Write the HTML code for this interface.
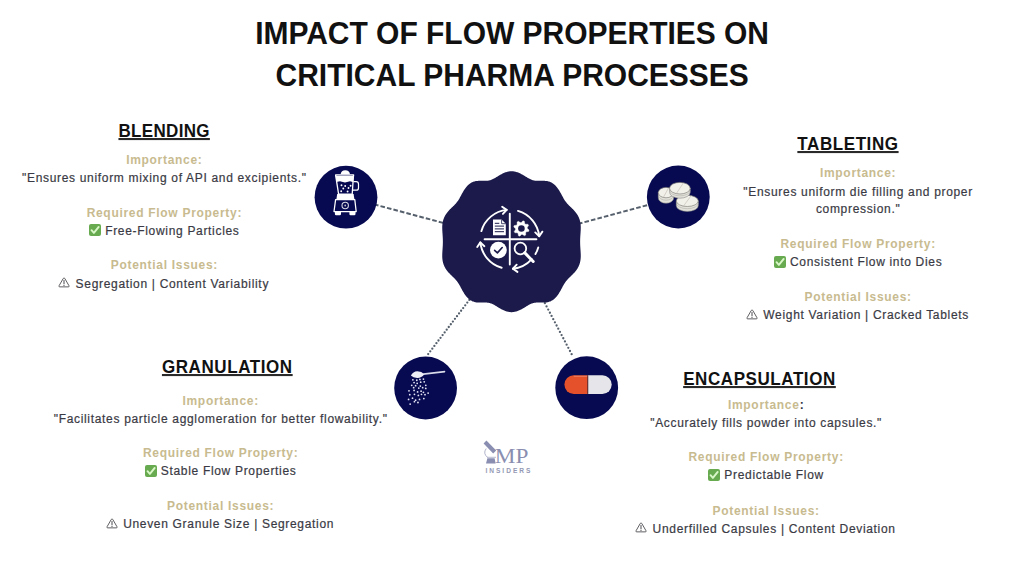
<!DOCTYPE html>
<html><head><meta charset="utf-8"><style>
html,body{margin:0;padding:0;}
body{width:1024px;height:576px;position:relative;overflow:hidden;background:#fff;font-family:"Liberation Sans",sans-serif;}
.t{position:absolute;white-space:nowrap;text-align:center;}
.s{-webkit-text-stroke:0.2px currentColor;}
.ic{vertical-align:-1px;}
svg.bg{position:absolute;left:0;top:0;}
</style></head><body>
<div class="t" style="left:112.09px;top:15.50px;width:800px;font-size:30px;line-height:36px;color:#111;letter-spacing:-0.02px;font-weight:bold;transform:scaleY(1.034);transform-origin:50% 28.40px;">IMPACT OF FLOW PROPERTIES ON</div>
<div class="t" style="left:112.20px;top:57.60px;width:800px;font-size:30px;line-height:36px;color:#111;letter-spacing:0.0px;font-weight:bold;transform:scaleY(1.034);transform-origin:50% 28.40px;">CRITICAL PHARMA PROCESSES</div>
<div class="t" style="left:-85.83px;top:121.81px;width:500px;font-size:17px;line-height:20px;color:#111;letter-spacing:0.33px;font-weight:bold;text-decoration:underline;text-decoration-thickness:2px;text-underline-offset:1.3px;text-decoration-color:#2a2a2a;transform:scaleY(1.04);transform-origin:50% 15.89px;">BLENDING</div>
<div class="t" style="left:-85.65px;top:152.84px;width:500px;font-size:12px;line-height:14px;color:#c8bb8f;letter-spacing:0.7px;font-weight:bold;">Importance:</div>
<div class="t s" style="left:-85.66px;top:170.84px;width:500px;font-size:12px;line-height:14px;color:#3a3a44;letter-spacing:0.68px;">"Ensures uniform mixing of API and excipients."</div>
<div class="t" style="left:-85.65px;top:205.74px;width:500px;font-size:12px;line-height:14px;color:#c8bb8f;letter-spacing:0.7px;font-weight:bold;">Required Flow Property:</div>
<div class="t s" style="left:-85.66px;top:223.54px;width:500px;font-size:12px;line-height:14px;color:#3a3a44;letter-spacing:0.68px;"><svg class="ic" style="vertical-align:-1.8px" width="12" height="12" viewBox="0 0 12 12"><rect x="0" y="0" width="12" height="12" rx="2" fill="#68aa50"/><path d="M2.5 6.2 L4.9 8.9 L9.7 2.9" stroke="#d9f7c8" stroke-width="1.9" fill="none" stroke-linecap="round" stroke-linejoin="round"/></svg> Free-Flowing Particles</div>
<div class="t" style="left:-85.65px;top:258.34px;width:500px;font-size:12px;line-height:14px;color:#c8bb8f;letter-spacing:0.7px;font-weight:bold;">Potential Issues:</div>
<div class="t s" style="left:-85.66px;top:276.64px;width:500px;font-size:12px;line-height:14px;color:#3a3a44;letter-spacing:0.68px;"><svg class="ic" style="vertical-align:-0.6px;position:relative;left:-1.2px" width="12" height="11" viewBox="0 0 12 11"><path d="M5.2 1.2 Q6 0 6.8 1.2 L11.4 9.2 Q12 10.4 10.6 10.4 L1.4 10.4 Q0 10.4 0.6 9.2 Z" stroke="#5a5a5e" stroke-width="1.05" fill="none" stroke-linejoin="round" transform="translate(0.5 0.3) scale(0.92)"/><path d="M6 3.6 L6 6.8" stroke="#5a5a5e" stroke-width="1.1" stroke-linecap="round"/><circle cx="6" cy="8.4" r="0.6" fill="#5a5a5e"/></svg> Segregation | Content Variability</div>
<div class="t" style="left:-22.71px;top:357.51px;width:500px;font-size:17px;line-height:20px;color:#111;letter-spacing:0.58px;font-weight:bold;text-decoration:underline;text-decoration-thickness:2px;text-underline-offset:1.3px;text-decoration-color:#2a2a2a;transform:scaleY(1.04);transform-origin:50% 15.89px;">GRANULATION</div>
<div class="t" style="left:-29.35px;top:393.54px;width:500px;font-size:12px;line-height:14px;color:#c8bb8f;letter-spacing:0.7px;font-weight:bold;">Importance:</div>
<div class="t s" style="left:-29.36px;top:411.94px;width:500px;font-size:12px;line-height:14px;color:#3a3a44;letter-spacing:0.68px;">"Facilitates particle agglomeration for better flowability."</div>
<div class="t" style="left:-29.35px;top:446.44px;width:500px;font-size:12px;line-height:14px;color:#c8bb8f;letter-spacing:0.7px;font-weight:bold;">Required Flow Property:</div>
<div class="t s" style="left:-29.36px;top:464.04px;width:500px;font-size:12px;line-height:14px;color:#3a3a44;letter-spacing:0.68px;"><svg class="ic" style="vertical-align:-1.8px" width="12" height="12" viewBox="0 0 12 12"><rect x="0" y="0" width="12" height="12" rx="2" fill="#68aa50"/><path d="M2.5 6.2 L4.9 8.9 L9.7 2.9" stroke="#d9f7c8" stroke-width="1.9" fill="none" stroke-linecap="round" stroke-linejoin="round"/></svg> Stable Flow Properties</div>
<div class="t" style="left:-29.35px;top:498.84px;width:500px;font-size:12px;line-height:14px;color:#c8bb8f;letter-spacing:0.7px;font-weight:bold;">Potential Issues:</div>
<div class="t s" style="left:-29.36px;top:517.04px;width:500px;font-size:12px;line-height:14px;color:#3a3a44;letter-spacing:0.68px;"><svg class="ic" style="vertical-align:-0.6px;position:relative;left:-1.2px" width="12" height="11" viewBox="0 0 12 11"><path d="M5.2 1.2 Q6 0 6.8 1.2 L11.4 9.2 Q12 10.4 10.6 10.4 L1.4 10.4 Q0 10.4 0.6 9.2 Z" stroke="#5a5a5e" stroke-width="1.05" fill="none" stroke-linejoin="round" transform="translate(0.5 0.3) scale(0.92)"/><path d="M6 3.6 L6 6.8" stroke="#5a5a5e" stroke-width="1.1" stroke-linecap="round"/><circle cx="6" cy="8.4" r="0.6" fill="#5a5a5e"/></svg> Uneven Granule Size | Segregation</div>
<div class="t" style="left:597.99px;top:135.31px;width:500px;font-size:17px;line-height:20px;color:#111;letter-spacing:0.58px;font-weight:bold;text-decoration:underline;text-decoration-thickness:2px;text-underline-offset:1.3px;text-decoration-color:#2a2a2a;transform:scaleY(1.04);transform-origin:50% 15.89px;">TABLETING</div>
<div class="t" style="left:608.15px;top:166.44px;width:500px;font-size:12px;line-height:14px;color:#c8bb8f;letter-spacing:0.7px;font-weight:bold;">Importance:</div>
<div class="t s" style="left:608.14px;top:185.04px;width:500px;font-size:12px;line-height:14px;color:#3a3a44;letter-spacing:0.68px;">"Ensures uniform die filling and proper</div>
<div class="t s" style="left:608.14px;top:202.24px;width:500px;font-size:12px;line-height:14px;color:#3a3a44;letter-spacing:0.68px;">compression."</div>
<div class="t" style="left:608.15px;top:237.14px;width:500px;font-size:12px;line-height:14px;color:#c8bb8f;letter-spacing:0.7px;font-weight:bold;">Required Flow Property:</div>
<div class="t s" style="left:608.14px;top:255.24px;width:500px;font-size:12px;line-height:14px;color:#3a3a44;letter-spacing:0.68px;"><svg class="ic" style="vertical-align:-1.8px" width="12" height="12" viewBox="0 0 12 12"><rect x="0" y="0" width="12" height="12" rx="2" fill="#68aa50"/><path d="M2.5 6.2 L4.9 8.9 L9.7 2.9" stroke="#d9f7c8" stroke-width="1.9" fill="none" stroke-linecap="round" stroke-linejoin="round"/></svg> Consistent Flow into Dies</div>
<div class="t" style="left:608.15px;top:289.64px;width:500px;font-size:12px;line-height:14px;color:#c8bb8f;letter-spacing:0.7px;font-weight:bold;">Potential Issues:</div>
<div class="t s" style="left:608.14px;top:308.24px;width:500px;font-size:12px;line-height:14px;color:#3a3a44;letter-spacing:0.68px;"><svg class="ic" style="vertical-align:-0.6px;position:relative;left:-1.2px" width="12" height="11" viewBox="0 0 12 11"><path d="M5.2 1.2 Q6 0 6.8 1.2 L11.4 9.2 Q12 10.4 10.6 10.4 L1.4 10.4 Q0 10.4 0.6 9.2 Z" stroke="#5a5a5e" stroke-width="1.05" fill="none" stroke-linejoin="round" transform="translate(0.5 0.3) scale(0.92)"/><path d="M6 3.6 L6 6.8" stroke="#5a5a5e" stroke-width="1.1" stroke-linecap="round"/><circle cx="6" cy="8.4" r="0.6" fill="#5a5a5e"/></svg> Weight Variation | Cracked Tablets</div>
<div class="t" style="left:509.49px;top:369.81px;width:500px;font-size:17px;line-height:20px;color:#111;letter-spacing:0.58px;font-weight:bold;text-decoration:underline;text-decoration-thickness:2px;text-underline-offset:1.3px;text-decoration-color:#2a2a2a;transform:scaleY(1.04);transform-origin:50% 15.89px;">ENCAPSULATION</div>
<div class="t" style="left:516.15px;top:397.84px;width:500px;font-size:12px;line-height:14px;color:#c8bb8f;letter-spacing:0.7px;font-weight:bold;">Importance<span style="color:#30313f">:</span></div>
<div class="t s" style="left:516.14px;top:415.64px;width:500px;font-size:12px;line-height:14px;color:#3a3a44;letter-spacing:0.68px;">"Accurately fills powder into capsules."</div>
<div class="t" style="left:516.15px;top:450.24px;width:500px;font-size:12px;line-height:14px;color:#c8bb8f;letter-spacing:0.7px;font-weight:bold;">Required Flow Property:</div>
<div class="t s" style="left:516.14px;top:468.34px;width:500px;font-size:12px;line-height:14px;color:#3a3a44;letter-spacing:0.68px;"><svg class="ic" style="vertical-align:-1.8px" width="12" height="12" viewBox="0 0 12 12"><rect x="0" y="0" width="12" height="12" rx="2" fill="#68aa50"/><path d="M2.5 6.2 L4.9 8.9 L9.7 2.9" stroke="#d9f7c8" stroke-width="1.9" fill="none" stroke-linecap="round" stroke-linejoin="round"/></svg> Predictable Flow</div>
<div class="t" style="left:516.15px;top:503.54px;width:500px;font-size:12px;line-height:14px;color:#c8bb8f;letter-spacing:0.7px;font-weight:bold;">Potential Issues:</div>
<div class="t s" style="left:516.14px;top:521.64px;width:500px;font-size:12px;line-height:14px;color:#3a3a44;letter-spacing:0.68px;"><svg class="ic" style="vertical-align:-0.6px;position:relative;left:-1.2px" width="12" height="11" viewBox="0 0 12 11"><path d="M5.2 1.2 Q6 0 6.8 1.2 L11.4 9.2 Q12 10.4 10.6 10.4 L1.4 10.4 Q0 10.4 0.6 9.2 Z" stroke="#5a5a5e" stroke-width="1.05" fill="none" stroke-linejoin="round" transform="translate(0.5 0.3) scale(0.92)"/><path d="M6 3.6 L6 6.8" stroke="#5a5a5e" stroke-width="1.1" stroke-linecap="round"/><circle cx="6" cy="8.4" r="0.6" fill="#5a5a5e"/></svg> Underfilled Capsules | Content Deviation</div>
<svg class="bg" width="1024" height="576" viewBox="0 0 1024 576">
<g stroke="#56606c" stroke-width="2" fill="none">
<line x1="374" y1="204.4" x2="446" y2="223.6" stroke-dasharray="4.6 2.1"/>
<line x1="578" y1="223.9" x2="650" y2="204.4" stroke-dasharray="4.6 2.1"/>
<line x1="471.4" y1="297.2" x2="427.4" y2="355.1" stroke-dasharray="0 3.4" stroke-linecap="round" stroke-width="2.3"/>
<line x1="543.2" y1="300" x2="572.8" y2="356.4" stroke-dasharray="0 3.6" stroke-linecap="round" stroke-width="2.3"/>
</g>
<path d="M580.13 241.70 L580.13 242.30 L580.14 242.90 L580.15 243.50 L580.17 244.10 L580.19 244.70 L580.21 245.30 L580.24 245.90 L580.27 246.51 L580.31 247.12 L580.35 247.72 L580.39 248.33 L580.43 248.94 L580.47 249.56 L580.52 250.17 L580.56 250.79 L580.60 251.41 L580.64 252.03 L580.68 252.66 L580.71 253.28 L580.73 253.91 L580.75 254.54 L580.76 255.16 L580.77 255.79 L580.76 256.42 L580.74 257.05 L580.71 257.68 L580.67 258.31 L580.61 258.93 L580.54 259.56 L580.46 260.18 L580.36 260.80 L580.24 261.41 L580.11 262.02 L579.96 262.63 L579.79 263.23 L579.61 263.83 L579.41 264.42 L579.19 265.01 L578.95 265.59 L578.70 266.16 L578.43 266.73 L578.15 267.28 L577.85 267.84 L577.53 268.38 L577.20 268.91 L576.85 269.44 L576.50 269.96 L576.12 270.47 L575.74 270.97 L575.34 271.47 L574.93 271.96 L574.52 272.44 L574.09 272.91 L573.66 273.37 L573.22 273.83 L572.77 274.28 L572.33 274.73 L571.88 275.17 L571.43 275.60 L570.97 276.04 L570.52 276.47 L570.08 276.90 L569.64 277.33 L569.20 277.76 L568.77 278.19 L568.35 278.62 L567.93 279.05 L567.53 279.49 L567.14 279.94 L566.75 280.39 L566.38 280.84 L566.01 281.31 L565.66 281.78 L565.32 282.25 L564.98 282.74 L564.66 283.23 L564.34 283.73 L564.03 284.24 L563.73 284.75 L563.43 285.27 L563.13 285.80 L562.84 286.33 L562.55 286.86 L562.26 287.40 L561.97 287.95 L561.68 288.49 L561.39 289.04 L561.09 289.59 L560.79 290.14 L560.48 290.68 L560.17 291.23 L559.86 291.77 L559.53 292.32 L559.20 292.85 L558.86 293.39 L558.52 293.92 L558.16 294.44 L557.79 294.95 L557.42 295.46 L557.03 295.96 L556.64 296.45 L556.23 296.93 L555.81 297.40 L555.37 297.86 L554.93 298.30 L554.47 298.72 L554.00 299.13 L553.51 299.52 L553.01 299.89 L552.49 300.24 L551.95 300.56 L551.41 300.86 L550.84 301.14 L550.27 301.40 L549.68 301.62 L549.07 301.83 L548.45 302.00 L547.82 302.15 L547.18 302.28 L546.54 302.38 L545.88 302.46 L545.22 302.52 L544.55 302.57 L543.88 302.59 L543.20 302.60 L542.53 302.61 L541.86 302.60 L541.20 302.58 L540.53 302.57 L539.88 302.55 L539.23 302.54 L538.59 302.53 L537.95 302.54 L537.33 302.55 L536.72 302.58 L536.11 302.62 L535.52 302.68 L534.94 302.75 L534.36 302.85 L533.80 302.96 L533.24 303.10 L532.69 303.25 L532.15 303.43 L531.62 303.62 L531.09 303.83 L530.57 304.06 L530.04 304.31 L529.53 304.57 L529.01 304.84 L528.49 305.12 L527.98 305.42 L527.46 305.72 L526.94 306.03 L526.43 306.35 L525.90 306.67 L525.38 306.99 L524.85 307.32 L524.32 307.64 L523.78 307.96 L523.24 308.28 L522.69 308.60 L522.14 308.90 L521.59 309.21 L521.03 309.50 L520.46 309.79 L519.89 310.06 L519.32 310.32 L518.74 310.57 L518.15 310.81 L517.57 311.03 L516.97 311.23 L516.38 311.42 L515.77 311.59 L515.17 311.73 L514.56 311.86 L513.95 311.96 L513.34 312.04 L512.73 312.10 L512.11 312.14 L511.50 312.15 L510.89 312.14 L510.27 312.10 L509.66 312.04 L509.05 311.96 L508.44 311.86 L507.83 311.73 L507.23 311.59 L506.62 311.42 L506.03 311.23 L505.43 311.03 L504.85 310.81 L504.26 310.57 L503.68 310.32 L503.11 310.06 L502.54 309.79 L501.97 309.50 L501.41 309.21 L500.86 308.90 L500.31 308.60 L499.76 308.28 L499.22 307.96 L498.68 307.64 L498.15 307.32 L497.62 306.99 L497.10 306.67 L496.57 306.35 L496.06 306.03 L495.54 305.72 L495.02 305.42 L494.51 305.12 L493.99 304.84 L493.47 304.57 L492.96 304.31 L492.43 304.06 L491.91 303.83 L491.38 303.62 L490.85 303.43 L490.31 303.25 L489.76 303.10 L489.20 302.96 L488.64 302.85 L488.06 302.75 L487.48 302.68 L486.89 302.62 L486.28 302.58 L485.67 302.55 L485.05 302.54 L484.41 302.53 L483.77 302.54 L483.12 302.55 L482.47 302.57 L481.80 302.58 L481.14 302.60 L480.47 302.61 L479.80 302.60 L479.12 302.59 L478.45 302.57 L477.78 302.52 L477.12 302.46 L476.46 302.38 L475.82 302.28 L475.18 302.15 L474.55 302.00 L473.93 301.83 L473.32 301.62 L472.73 301.40 L472.16 301.14 L471.59 300.86 L471.05 300.56 L470.51 300.24 L469.99 299.89 L469.49 299.52 L469.00 299.13 L468.53 298.72 L468.07 298.30 L467.63 297.86 L467.19 297.40 L466.77 296.93 L466.36 296.45 L465.97 295.96 L465.58 295.46 L465.21 294.95 L464.84 294.44 L464.48 293.92 L464.14 293.39 L463.80 292.85 L463.47 292.32 L463.14 291.77 L462.83 291.23 L462.52 290.68 L462.21 290.14 L461.91 289.59 L461.61 289.04 L461.32 288.49 L461.03 287.95 L460.74 287.40 L460.45 286.86 L460.16 286.33 L459.87 285.80 L459.57 285.27 L459.27 284.75 L458.97 284.24 L458.66 283.73 L458.34 283.23 L458.02 282.74 L457.68 282.25 L457.34 281.78 L456.99 281.31 L456.62 280.84 L456.25 280.39 L455.86 279.94 L455.47 279.49 L455.07 279.05 L454.65 278.62 L454.23 278.19 L453.80 277.76 L453.36 277.33 L452.92 276.90 L452.48 276.47 L452.03 276.04 L451.57 275.60 L451.12 275.17 L450.67 274.73 L450.23 274.28 L449.78 273.83 L449.34 273.37 L448.91 272.91 L448.48 272.44 L448.07 271.96 L447.66 271.47 L447.26 270.97 L446.88 270.47 L446.50 269.96 L446.15 269.44 L445.80 268.91 L445.47 268.38 L445.15 267.84 L444.85 267.28 L444.57 266.73 L444.30 266.16 L444.05 265.59 L443.81 265.01 L443.59 264.42 L443.39 263.83 L443.21 263.23 L443.04 262.63 L442.89 262.02 L442.76 261.41 L442.64 260.80 L442.54 260.18 L442.46 259.56 L442.39 258.93 L442.33 258.31 L442.29 257.68 L442.26 257.05 L442.24 256.42 L442.23 255.79 L442.24 255.16 L442.25 254.54 L442.27 253.91 L442.29 253.28 L442.32 252.66 L442.36 252.03 L442.40 251.41 L442.44 250.79 L442.48 250.17 L442.53 249.56 L442.57 248.94 L442.61 248.33 L442.65 247.72 L442.69 247.12 L442.73 246.51 L442.76 245.90 L442.79 245.30 L442.81 244.70 L442.83 244.10 L442.85 243.50 L442.86 242.90 L442.87 242.30 L442.87 241.70 L442.87 241.10 L442.86 240.50 L442.85 239.90 L442.83 239.30 L442.81 238.70 L442.79 238.10 L442.76 237.50 L442.73 236.89 L442.69 236.28 L442.65 235.68 L442.61 235.07 L442.57 234.46 L442.53 233.84 L442.48 233.23 L442.44 232.61 L442.40 231.99 L442.36 231.37 L442.32 230.74 L442.29 230.12 L442.27 229.49 L442.25 228.86 L442.24 228.24 L442.23 227.61 L442.24 226.98 L442.26 226.35 L442.29 225.72 L442.33 225.09 L442.39 224.47 L442.46 223.84 L442.54 223.22 L442.64 222.60 L442.76 221.99 L442.89 221.38 L443.04 220.77 L443.21 220.17 L443.39 219.57 L443.59 218.98 L443.81 218.39 L444.05 217.81 L444.30 217.24 L444.57 216.67 L444.85 216.12 L445.15 215.56 L445.47 215.02 L445.80 214.49 L446.15 213.96 L446.50 213.44 L446.88 212.93 L447.26 212.43 L447.66 211.93 L448.07 211.44 L448.48 210.96 L448.91 210.49 L449.34 210.03 L449.78 209.57 L450.23 209.12 L450.67 208.67 L451.12 208.23 L451.57 207.80 L452.03 207.36 L452.48 206.93 L452.92 206.50 L453.36 206.07 L453.80 205.64 L454.23 205.21 L454.65 204.78 L455.07 204.35 L455.47 203.91 L455.86 203.46 L456.25 203.01 L456.62 202.56 L456.99 202.09 L457.34 201.62 L457.68 201.15 L458.02 200.66 L458.34 200.17 L458.66 199.67 L458.97 199.16 L459.27 198.65 L459.57 198.13 L459.87 197.60 L460.16 197.07 L460.45 196.54 L460.74 196.00 L461.03 195.45 L461.32 194.91 L461.61 194.36 L461.91 193.81 L462.21 193.26 L462.52 192.72 L462.83 192.17 L463.14 191.63 L463.47 191.08 L463.80 190.55 L464.14 190.01 L464.48 189.48 L464.84 188.96 L465.21 188.45 L465.58 187.94 L465.97 187.44 L466.36 186.95 L466.77 186.47 L467.19 186.00 L467.63 185.54 L468.07 185.10 L468.53 184.68 L469.00 184.27 L469.49 183.88 L469.99 183.51 L470.51 183.16 L471.05 182.84 L471.59 182.54 L472.16 182.26 L472.73 182.00 L473.32 181.78 L473.93 181.57 L474.55 181.40 L475.18 181.25 L475.82 181.12 L476.46 181.02 L477.12 180.94 L477.78 180.88 L478.45 180.83 L479.12 180.81 L479.80 180.80 L480.47 180.79 L481.14 180.80 L481.80 180.82 L482.47 180.83 L483.12 180.85 L483.77 180.86 L484.41 180.87 L485.05 180.86 L485.67 180.85 L486.28 180.82 L486.89 180.78 L487.48 180.72 L488.06 180.65 L488.64 180.55 L489.20 180.44 L489.76 180.30 L490.31 180.15 L490.85 179.97 L491.38 179.78 L491.91 179.57 L492.43 179.34 L492.96 179.09 L493.47 178.83 L493.99 178.56 L494.51 178.28 L495.02 177.98 L495.54 177.68 L496.06 177.37 L496.57 177.05 L497.10 176.73 L497.62 176.41 L498.15 176.08 L498.68 175.76 L499.22 175.44 L499.76 175.12 L500.31 174.80 L500.86 174.50 L501.41 174.19 L501.97 173.90 L502.54 173.61 L503.11 173.34 L503.68 173.08 L504.26 172.83 L504.85 172.59 L505.43 172.37 L506.03 172.17 L506.62 171.98 L507.23 171.81 L507.83 171.67 L508.44 171.54 L509.05 171.44 L509.66 171.36 L510.27 171.30 L510.89 171.26 L511.50 171.25 L512.11 171.26 L512.73 171.30 L513.34 171.36 L513.95 171.44 L514.56 171.54 L515.17 171.67 L515.77 171.81 L516.38 171.98 L516.97 172.17 L517.57 172.37 L518.15 172.59 L518.74 172.83 L519.32 173.08 L519.89 173.34 L520.46 173.61 L521.03 173.90 L521.59 174.19 L522.14 174.50 L522.69 174.80 L523.24 175.12 L523.78 175.44 L524.32 175.76 L524.85 176.08 L525.38 176.41 L525.90 176.73 L526.43 177.05 L526.94 177.37 L527.46 177.68 L527.98 177.98 L528.49 178.28 L529.01 178.56 L529.53 178.83 L530.04 179.09 L530.57 179.34 L531.09 179.57 L531.62 179.78 L532.15 179.97 L532.69 180.15 L533.24 180.30 L533.80 180.44 L534.36 180.55 L534.94 180.65 L535.52 180.72 L536.11 180.78 L536.72 180.82 L537.33 180.85 L537.95 180.86 L538.59 180.87 L539.23 180.86 L539.88 180.85 L540.53 180.83 L541.20 180.82 L541.86 180.80 L542.53 180.79 L543.20 180.80 L543.88 180.81 L544.55 180.83 L545.22 180.88 L545.88 180.94 L546.54 181.02 L547.18 181.12 L547.82 181.25 L548.45 181.40 L549.07 181.57 L549.68 181.78 L550.27 182.00 L550.84 182.26 L551.41 182.54 L551.95 182.84 L552.49 183.16 L553.01 183.51 L553.51 183.88 L554.00 184.27 L554.47 184.68 L554.93 185.10 L555.37 185.54 L555.81 186.00 L556.23 186.47 L556.64 186.95 L557.03 187.44 L557.42 187.94 L557.79 188.45 L558.16 188.96 L558.52 189.48 L558.86 190.01 L559.20 190.55 L559.53 191.08 L559.86 191.63 L560.17 192.17 L560.48 192.72 L560.79 193.26 L561.09 193.81 L561.39 194.36 L561.68 194.91 L561.97 195.45 L562.26 196.00 L562.55 196.54 L562.84 197.07 L563.13 197.60 L563.43 198.13 L563.73 198.65 L564.03 199.16 L564.34 199.67 L564.66 200.17 L564.98 200.66 L565.32 201.15 L565.66 201.62 L566.01 202.09 L566.38 202.56 L566.75 203.01 L567.14 203.46 L567.53 203.91 L567.93 204.35 L568.35 204.78 L568.77 205.21 L569.20 205.64 L569.64 206.07 L570.08 206.50 L570.52 206.93 L570.97 207.36 L571.43 207.80 L571.88 208.23 L572.33 208.67 L572.77 209.12 L573.22 209.57 L573.66 210.03 L574.09 210.49 L574.52 210.96 L574.93 211.44 L575.34 211.93 L575.74 212.43 L576.12 212.93 L576.50 213.44 L576.85 213.96 L577.20 214.49 L577.53 215.02 L577.85 215.56 L578.15 216.12 L578.43 216.67 L578.70 217.24 L578.95 217.81 L579.19 218.39 L579.41 218.98 L579.61 219.57 L579.79 220.17 L579.96 220.77 L580.11 221.38 L580.24 221.99 L580.36 222.60 L580.46 223.22 L580.54 223.84 L580.61 224.47 L580.67 225.09 L580.71 225.72 L580.74 226.35 L580.76 226.98 L580.77 227.61 L580.76 228.24 L580.75 228.86 L580.73 229.49 L580.71 230.12 L580.68 230.74 L580.64 231.37 L580.60 231.99 L580.56 232.61 L580.52 233.23 L580.47 233.84 L580.43 234.46 L580.39 235.07 L580.35 235.68 L580.31 236.28 L580.27 236.89 L580.24 237.50 L580.21 238.10 L580.19 238.70 L580.17 239.30 L580.15 239.90 L580.14 240.50 L580.13 241.10Z" fill="#1b1a4a"/>
<circle cx="346" cy="197.2" r="31.4" fill="#070a50"/>
<circle cx="678.3" cy="197" r="31.4" fill="#070a50"/>
<circle cx="425.6" cy="388" r="31.4" fill="#070a50"/>
<circle cx="586.7" cy="387.7" r="31.4" fill="#070a50"/>
<g>
<path d="M340.6 174.3 Q341.2 170.4 345.3 170.3 Q349.4 170.4 350.0 174.3 Z" fill="#fff"/>
<rect x="335.0" y="174.2" width="19.2" height="2.4" rx="0.6" fill="#fff"/><line x1="336.4" y1="175.5" x2="352.8" y2="175.5" stroke="#070a50" stroke-width="0.5"/>
<path d="M335.8 176.4 L353.4 176.4 L352.2 194.2 L338.6 194.2 Z" fill="none" stroke="#fff" stroke-width="1.3" stroke-linejoin="round"/>
<path d="M335.8 176.4 L353.4 176.4 L353.0 182.0 L350 181.2 L345 182.6 L340 181.2 L336.2 182.0 Z" fill="#fff"/>
<circle cx="341.5" cy="185.2" r="0.95" fill="#fff"/>
<circle cx="350.6" cy="185.7" r="0.95" fill="#fff"/>
<circle cx="343.3" cy="188.5" r="0.95" fill="#fff"/>
<circle cx="348.5" cy="188.0" r="0.95" fill="#fff"/>
<circle cx="341.2" cy="191.3" r="0.95" fill="#fff"/>
<circle cx="347.6" cy="191.5" r="0.95" fill="#fff"/>
<circle cx="345.2" cy="186.0" r="0.95" fill="#fff"/>
<path d="M353.4 181.6 L356.2 181.6 Q358.5 181.6 358.5 183.9 L358.5 187.9 Q358.5 190.2 356.2 190.2 L352.8 190.2" fill="none" stroke="#fff" stroke-width="1.2" stroke-linejoin="round"/>
<path d="M337.2 194.0 L353.6 194.0 L354.4 199.2 L336.4 199.2 Z" fill="#fff"/>
<path d="M335.6 199.6 L354.8 199.6 L356.2 211.6 L334.0 211.6 Z" fill="none" stroke="#fff" stroke-width="1.25" stroke-linejoin="round"/>
<circle cx="345.2" cy="205.5" r="3.2" fill="none" stroke="#d8d8e4" stroke-width="1.1"/>
<circle cx="345.2" cy="205.5" r="0.9" fill="#bbb"/>
<path d="M334.9 211.6 h6.1 v2.4 q0 1.2 -1.2 1.2 h-3.7 q-1.2 0 -1.2 -1.2 Z" fill="#fff"/>
<path d="M349.4 211.6 h6.1 v2.4 q0 1.2 -1.2 1.2 h-3.7 q-1.2 0 -1.2 -1.2 Z" fill="#fff"/>
</g>
<g>
<path d="M658.3 192.6 L658.3 198.0 A7.7 5.2 0 0 0 673.7 198.0 L673.7 192.6 Z" fill="#e2e1da" stroke="#858480" stroke-width="0.55"/>
<path d="M658.3 195.03 A7.7 5.2 0 0 0 673.7 195.03" fill="none" stroke="#a9a8a0" stroke-width="0.5"/>
<ellipse cx="666.0" cy="192.6" rx="7.7" ry="5.2" fill="#f1f0e9" stroke="#7d7c76" stroke-width="0.65"/>
<path d="M668.695 187.76399999999998 L663.305 197.436" stroke="#bdbbb0" stroke-width="0.6"/>
<path d="M676.3 200.9 L676.3 205.8 A11.0 5.6 0 0 0 698.3 205.8 L698.3 200.9 Z" fill="#e2e1da" stroke="#858480" stroke-width="0.55"/>
<path d="M676.3 203.10500000000002 A11.0 5.6 0 0 0 698.3 203.10500000000002" fill="none" stroke="#a9a8a0" stroke-width="0.5"/>
<ellipse cx="687.3" cy="200.9" rx="11.0" ry="5.6" fill="#f1f0e9" stroke="#7d7c76" stroke-width="0.65"/>
<path d="M691.15 195.692 L683.4499999999999 206.108" stroke="#bdbbb0" stroke-width="0.6"/>
<path d="M669.6 188.2 L669.6 192.39999999999998 A10.3 5.8 0 0 0 690.1999999999999 192.39999999999998 L690.1999999999999 188.2 Z" fill="#e2e1da" stroke="#858480" stroke-width="0.55"/>
<path d="M669.6 190.08999999999997 A10.3 5.8 0 0 0 690.1999999999999 190.08999999999997" fill="none" stroke="#a9a8a0" stroke-width="0.5"/>
<ellipse cx="679.9" cy="188.2" rx="10.3" ry="5.8" fill="#f1f0e9" stroke="#7d7c76" stroke-width="0.65"/>
<path d="M683.505 182.80599999999998 L676.295 193.594" stroke="#bdbbb0" stroke-width="0.6"/>
</g>
<g>
<path d="M423.2 373.2 L444.8 370.8 Q446 371.6 444.8 372.6 L423.2 375.0 Z" fill="#d9dbea"/>
<path d="M410.9 375.6 Q413 371.4 417.4 371.2 Q421.6 371.2 424.4 374.2 Q421 378.2 417.2 377.9 Q413 377.9 410.9 375.6 Z" fill="#eeeef6"/>
<circle cx="412.89" cy="379.84" r="0.9" fill="#e2e2f4"/>
<circle cx="416.80" cy="380.23" r="0.9" fill="#e2e2f4"/>
<circle cx="419.92" cy="379.45" r="0.9" fill="#e2e2f4"/>
<circle cx="423.44" cy="379.06" r="0.9" fill="#e2e2f4"/>
<circle cx="414.06" cy="382.58" r="0.9" fill="#e2e2f4"/>
<circle cx="417.19" cy="383.36" r="0.9" fill="#e2e2f4"/>
<circle cx="420.70" cy="382.19" r="0.9" fill="#e2e2f4"/>
<circle cx="424.22" cy="381.80" r="0.9" fill="#e2e2f4"/>
<circle cx="411.72" cy="385.31" r="0.9" fill="#e2e2f4"/>
<circle cx="415.62" cy="385.70" r="0.9" fill="#e2e2f4"/>
<circle cx="420.31" cy="386.09" r="0.9" fill="#e2e2f4"/>
<circle cx="425.78" cy="385.31" r="0.9" fill="#e2e2f4"/>
<circle cx="413.67" cy="387.66" r="0.9" fill="#e2e2f4"/>
<circle cx="418.75" cy="388.05" r="0.9" fill="#e2e2f4"/>
<circle cx="422.66" cy="387.66" r="0.9" fill="#e2e2f4"/>
<circle cx="425.78" cy="388.44" r="0.9" fill="#e2e2f4"/>
<circle cx="408.98" cy="390.78" r="0.9" fill="#e2e2f4"/>
<circle cx="414.06" cy="390.39" r="0.9" fill="#e2e2f4"/>
<circle cx="417.58" cy="391.95" r="0.9" fill="#e2e2f4"/>
<circle cx="421.09" cy="391.17" r="0.9" fill="#e2e2f4"/>
<circle cx="423.44" cy="392.34" r="0.9" fill="#e2e2f4"/>
<circle cx="428.12" cy="393.12" r="0.9" fill="#e2e2f4"/>
<circle cx="409.77" cy="394.69" r="0.9" fill="#e2e2f4"/>
<circle cx="414.45" cy="394.30" r="0.9" fill="#e2e2f4"/>
<circle cx="418.36" cy="395.47" r="0.9" fill="#e2e2f4"/>
<circle cx="421.48" cy="394.30" r="0.9" fill="#e2e2f4"/>
<circle cx="425.00" cy="394.69" r="0.9" fill="#e2e2f4"/>
<circle cx="408.59" cy="399.38" r="0.9" fill="#e2e2f4"/>
<circle cx="412.50" cy="398.20" r="0.9" fill="#e2e2f4"/>
<circle cx="415.62" cy="400.16" r="0.9" fill="#e2e2f4"/>
<circle cx="419.53" cy="399.38" r="0.9" fill="#e2e2f4"/>
<circle cx="423.83" cy="398.59" r="0.9" fill="#e2e2f4"/>
<circle cx="410.16" cy="404.06" r="0.9" fill="#e2e2f4"/>
<circle cx="414.45" cy="401.72" r="0.9" fill="#e2e2f4"/>
<circle cx="417.97" cy="402.50" r="0.9" fill="#e2e2f4"/>
</g>
<g>
<path d="M587.8 375.3 L602.4000000000001 375.3 A9.299999999999983 9.299999999999983 0 0 1 602.4000000000001 393.9 L587.8 393.9 Z" fill="#e6e6ea"/>
<path d="M587.8 375.3 L573.6999999999999 375.3 A9.299999999999983 9.299999999999983 0 0 0 573.6999999999999 393.9 L587.8 393.9 Z" fill="#e5512a"/>
<line x1="587.8" y1="375.3" x2="587.8" y2="393.9" stroke="#3a1f2a" stroke-width="0.8"/>
<path d="M573.6999999999999 376.3 L587.1999999999999 376.3" stroke="rgba(255,200,180,0.35)" stroke-width="1.2"/>
</g>
<g transform="translate(509.8 239.3)" stroke="#fff" fill="none" stroke-width="1.9" stroke-linecap="round">
<line x1="0" y1="-25.6" x2="0" y2="25.2"/>
<line x1="-25.2" y1="0" x2="26.6" y2="0"/>
<path d="M8.16 -28.45 A29.6 29.6 0 0 1 29.44 -3.09"/>
<path d="M32.58 -7.65 L29.44 -3.09 L25.42 -6.89" stroke-linejoin="round"/>
<path d="M28.45 8.16 A29.6 29.6 0 0 1 25.63 14.80"/>
<path d="M22.00 19.81 A29.6 29.6 0 0 1 3.09 29.44"/>
<path d="M7.65 32.58 L3.09 29.44 L6.89 25.42" stroke-linejoin="round"/>
<path d="M-8.16 28.45 A29.6 29.6 0 0 1 -29.44 3.09"/>
<path d="M-32.58 7.65 L-29.44 3.09 L-25.42 6.89" stroke-linejoin="round"/>
<path d="M-28.45 -8.16 A29.6 29.6 0 0 1 -3.09 -29.44"/>
<path d="M-7.65 -32.58 L-3.09 -29.44 L-6.89 -25.42" stroke-linejoin="round"/>
</g>
<g transform="translate(509.8 239.3)">
<path d="M-16.8 -19.8 L-8.2 -19.8 L-4.0 -15.6 L-4.0 -4.0 L-16.8 -4.0 Z" fill="#fff"/>
<path d="M-8.2 -19.8 L-8.2 -15.6 L-4.0 -15.6" fill="none" stroke="#1b1a4a" stroke-width="0.8"/>
<line x1="-15.0" y1="-13.2" x2="-5.8" y2="-13.2" stroke="#1b1a4a" stroke-width="1.0"/>
<line x1="-15.0" y1="-10.4" x2="-5.8" y2="-10.4" stroke="#1b1a4a" stroke-width="1.0"/>
<line x1="-15.0" y1="-7.6" x2="-5.8" y2="-7.6" stroke="#1b1a4a" stroke-width="1.0"/>
<line x1="-15.0" y1="-16.0" x2="-10.5" y2="-16.0" stroke="#1b1a4a" stroke-width="1.0"/>
<path d="M19.25 -9.28 L18.81 -7.82 L16.59 -7.47 L15.84 -6.56 L15.93 -4.31 L14.58 -3.59 L12.77 -4.92 L11.60 -4.80 L10.08 -3.15 L8.62 -3.59 L8.27 -5.81 L7.36 -6.56 L5.11 -6.47 L4.39 -7.82 L5.72 -9.63 L5.60 -10.80 L3.95 -12.32 L4.39 -13.78 L6.61 -14.13 L7.36 -15.04 L7.27 -17.29 L8.62 -18.01 L10.43 -16.68 L11.60 -16.80 L13.12 -18.45 L14.58 -18.01 L14.93 -15.79 L15.84 -15.04 L18.09 -15.13 L18.81 -13.78 L17.48 -11.97 L17.60 -10.80Z" fill="#fff" stroke="#fff" stroke-width="0.4" stroke-linejoin="round"/>
<circle cx="11.6" cy="-10.8" r="3.3" fill="#1b1a4a"/>
<circle cx="-11.4" cy="10.8" r="8.4" fill="#fff"/>
<path d="M-15.2 11.0 L-12.4 13.6 L-7.6 8.2" fill="none" stroke="#1b1a4a" stroke-width="1.6" stroke-linecap="round" stroke-linejoin="round"/>
<circle cx="10.6" cy="9.2" r="5.8" fill="none" stroke="#fff" stroke-width="1.8"/>
<line x1="15.0" y1="13.6" x2="23.4" y2="22.2" stroke="#fff" stroke-width="3.0" stroke-linecap="round"/>
</g>
<g>
<path d="M483.6 443.4 L486.4 440.6 L496.2 450.6 L493.2 453.6 Z" fill="#8a8eb0"/>
<path d="M486.2 448.6 Q482.6 453.4 487.6 457.4" fill="none" stroke="#a8abc4" stroke-width="0.9"/>
<path d="M487.4 458.2 L494.6 458.2 L495.6 463.4 L486.0 463.4 Z" fill="#8a8eb0"/>
<line x1="487" y1="457.3" x2="496" y2="457.3" stroke="#9a9dba" stroke-width="0.7"/>
<text x="494.8" y="463.4" font-family="Liberation Serif" font-size="21" fill="#8a8eb0" textLength="33.6" lengthAdjust="spacingAndGlyphs">MP</text>
<text x="485.4" y="472.6" font-family="Liberation Sans" font-weight="bold" font-size="6.6" fill="#9599b4" textLength="45" lengthAdjust="spacing">INSIDERS</text>
</g>
</svg>
</body></html>
